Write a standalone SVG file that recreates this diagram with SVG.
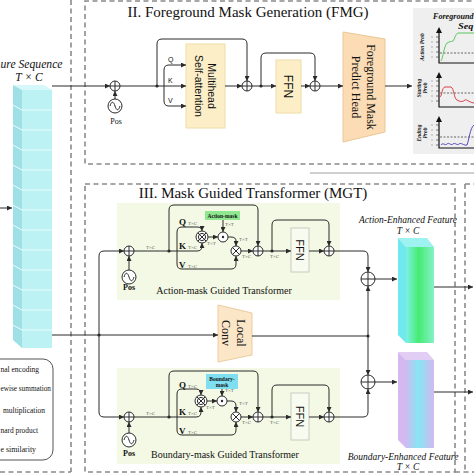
<svg xmlns="http://www.w3.org/2000/svg" width="474" height="474" viewBox="0 0 474 474">
<style>
.dash{fill:none;stroke:#8a8a8a;stroke-width:1.6;stroke-dasharray:5 3.5}
.ln{fill:none;stroke:#2a2a2a;stroke-width:1}
.arr{marker-end:url(#ah)}
.op{fill:#fff;stroke:#2a2a2a;stroke-width:1}
.ttl{font-family:"Liberation Serif",serif;font-size:15px;fill:#111}
.ser{font-family:"Liberation Serif",serif;fill:#111}
.sans{font-family:"Liberation Sans",Arial,sans-serif;fill:#111}
.tc{font-family:"Liberation Serif",serif;font-size:5px;fill:#666}
.qkv{font-family:"Liberation Serif",serif;font-size:9px;font-weight:bold;fill:#111}
.leg{font-family:"Liberation Serif",serif;font-size:8.5px;fill:#111}
.dot{fill:#2a2a2a}
.green{fill:#f3f9e4}
.ffn{fill:#f8fbef;stroke:#c8ccc0;stroke-width:1}
.ylab{font-family:"Liberation Serif",serif;font-size:5.5px;font-style:italic;font-weight:bold;fill:#222;text-anchor:middle}
</style>
<defs>
<marker id="ah" viewBox="0 0 6 6" refX="6" refY="3" markerWidth="5" markerHeight="5" markerUnits="userSpaceOnUse" orient="auto"><path d="M0,0 L6,3 L0,6 z" fill="#2a2a2a"/></marker>
<g id="plus"><circle r="5" class="op"/><path d="M-5,0H5M0,-5V5" class="ln"/></g>
<g id="bigplus"><circle r="7" class="op"/><path d="M-7,0H7M0,-7V7" class="ln"/></g>
<g id="mul"><circle r="5" class="op"/><path d="M-3.5,-3.5L3.5,3.5M-3.5,3.5L3.5,-3.5" class="ln"/></g>
<g id="cos"><circle r="6" class="op"/><circle r="3.6" class="op"/><path d="M-4.2,-4.2L4.2,4.2M-4.2,4.2L4.2,-4.2" class="ln"/></g>
<g id="had"><circle r="5" class="op"/><circle r="1.2" class="dot"/></g>
<g id="pos"><circle r="7" class="op"/><path d="M-5,0 C-3.5,-5 -1.5,-5 0,0 C1.5,5 3.5,5 5,0" class="ln"/></g>
<linearGradient id="gA" x1="0" y1="0" x2="1" y2="0"><stop offset="0" stop-color="#7ff0e4"/><stop offset="0.45" stop-color="#45ec72"/><stop offset="1" stop-color="#86f0c8"/></linearGradient>
<linearGradient id="gB" x1="0" y1="0" x2="1" y2="0"><stop offset="0" stop-color="#cdbcf2"/><stop offset="0.45" stop-color="#86e6f2"/><stop offset="1" stop-color="#d4b8f0"/></linearGradient>
</defs>

<!-- panels -->
<g id="panels">
<path class="dash" d="M71,0V472M0,472H71"/>
<path class="dash" d="M480,1H85V164H480"/>
<path d="M310,173H474" stroke="#a0a0a0" stroke-width="1" fill="none"/>
<path class="dash" d="M85,184H455V472H85Z"/>
<path class="dash" d="M465,184V472M465,184H480M455,472H480"/>
<text class="ttl" x="248" y="17" text-anchor="middle">II. Foreground Mask Generation (FMG)</text>
<text class="ttl" x="253" y="198" text-anchor="middle">III. Mask Guided Transformer (MGT)</text>
</g>

<!-- input feature sequence -->
<g id="input-seq">
<text class="ser" x="0.5" y="68" font-size="11.5" font-style="italic" textLength="62" lengthAdjust="spacingAndGlyphs">ure Sequence</text>
<text class="ser" x="29" y="81" font-size="11.5" font-style="italic" text-anchor="middle">T × C</text>
<polygon points="13,85 44,85 52,90 22,90" fill="#d6f8fa"/>
<polygon points="13,85 22,90 22,348 13,340" fill="#9fe0e6"/>
<rect x="22" y="90" width="30" height="258" fill="#bdf2f5"/>
<path d="M22,110H52M22,130H52M22,150H52M22,170H52M22,190H52M22,210H52M22,230H52M22,250H52M22,270H52M22,290H52M22,310H52M22,330H52" stroke="#e8fbfc" stroke-width="1"/>
<path d="M13,105L22,110M13,125L22,130M13,145L22,150M13,165L22,170M13,185L22,190M13,205L22,210M13,225L22,230M13,245L22,250M13,265L22,270M13,285L22,290M13,305L22,310M13,325L22,330" stroke="#e8fbfc" stroke-width="1"/>
</g>

<!-- legend -->
<g id="legend">
<rect x="-20" y="359" width="73" height="101" rx="10" fill="#fff" stroke="#555" stroke-width="1"/>
<text class="leg" x="0.5" y="372" textLength="38.5" lengthAdjust="spacingAndGlyphs">nal encoding</text>
<text class="leg" x="0.5" y="391" textLength="50.5" lengthAdjust="spacingAndGlyphs">ewise summation</text>
<text class="leg" x="3" y="413" textLength="42" lengthAdjust="spacingAndGlyphs">multiplication</text>
<text class="leg" x="0.5" y="433" textLength="37.5" lengthAdjust="spacingAndGlyphs">nard product</text>
<text class="leg" x="0.5" y="452" textLength="35.5" lengthAdjust="spacingAndGlyphs">e similarity</text>
</g>

<!-- FMG nodes -->
<g id="fmg-pos"><use href="#pos" x="115" y="106"/><text class="ser" x="116" y="124" font-size="8" text-anchor="middle">Pos</text></g>
<g id="fmg-plus0"><use href="#plus" x="115" y="86"/></g>
<g id="fmg-mhsa">
<rect x="186" y="44" width="39" height="84" fill="#fcefc8" stroke="#efdca6"/>
<g transform="translate(205.5,86) rotate(90)"><text class="sans" font-size="10.5" text-anchor="middle" y="-2.5">Multihead</text><text class="sans" font-size="10.5" text-anchor="middle" y="10.5">Self-attention</text></g>
<text class="sans" x="168" y="62" font-size="7">Q</text>
<text class="sans" x="168" y="83" font-size="7">K</text>
<text class="sans" x="168" y="103" font-size="7">V</text>
</g>
<g id="fmg-plus1"><use href="#plus" x="247" y="86"/></g>
<g id="fmg-ffn">
<rect x="276" y="60" width="25" height="53" fill="#fcefc8" stroke="#efdca6"/>
<text class="sans" font-size="12" text-anchor="middle" transform="translate(288.5,86.5) rotate(90)" y="4.5">FFN</text>
</g>
<g id="fmg-plus2"><use href="#plus" x="315" y="86"/></g>
<g id="fmg-head">
<polygon points="343,32 385,39 385,132 343,142" fill="#fbdcb4" stroke="#ebc796"/>
<g transform="translate(364,87) rotate(90)"><text class="ser" font-size="12" text-anchor="middle" y="-3">Foreground Mask</text><text class="ser" font-size="12" text-anchor="middle" y="12">Predict  Head</text></g>
</g>
<g id="fmg-chart">
<rect x="413" y="8" width="70" height="146" fill="#efefef"/>
<text class="ser" x="433" y="19" font-size="8.5" font-style="italic" font-weight="bold" textLength="40.5" lengthAdjust="spacingAndGlyphs">Foreground</text>
<text class="ser" x="458" y="29" font-size="8.5" font-style="italic" font-weight="bold" textLength="15.5" lengthAdjust="spacingAndGlyphs">Seq</text>
<path d="M439,30V63H474M439,75V107H474M439,119V148H474" stroke="#111" stroke-width="1.2" fill="none"/>
<path d="M436,33L439,27L442,33ZM436,78L439,72L442,78ZM436,122L439,116L442,122Z" fill="#111"/>
<path d="M436,37H439M436,42H439M436,47H439M436,52H439M436,57H439M436,81H439M436,86H439M436,91H439M436,96H439M436,101H439M436,125H439M436,130H439M436,135H439M436,140H439M436,145H439" stroke="#444" stroke-width="0.7"/>
<path d="M431,37H433M431,42H433M431,47H433M431,52H433M431,57H433M431,81H433M431,86H433M431,91H433M431,96H433M431,101H433M431,125H433M431,130H433M431,135H433M431,140H433M431,145H433" stroke="#999" stroke-width="0.7"/>
<path d="M440,53H474M440,93H474M440,137H474" stroke="#444" stroke-width="0.8" stroke-dasharray="2 1.5"/>
<path d="M441,61 C443,58 444,46 447,43 C450,41 451,42 453,41 C455,39 455,34 458,33 L474,33" stroke="#59c95e" stroke-width="1" fill="none"/>
<path d="M440,97 C442,96 442,87 445,87 L451,87 C454,88 454,99 457,100 C460,102 463,102 465,100 C467,99 468,102 474,103" stroke="#d9414b" stroke-width="1" fill="none"/>
<path d="M441,145 C443,142 445,146 447,144 C449,142 451,146 453,144 C455,142 457,146 459,144 C461,142 464,146 467,145 C469,140 470,128 474,125" stroke="#5547b8" stroke-width="1" fill="none"/>
<text class="ylab" transform="translate(424,47) rotate(-90)">Action Prob</text>
<text class="ylab" transform="translate(421,88) rotate(-90)">Starting</text>
<text class="ylab" transform="translate(427,88) rotate(-90)">Prob</text>
<text class="ylab" transform="translate(421,133) rotate(-90)">Ending</text>
<text class="ylab" transform="translate(427,133) rotate(-90)">Prob</text>
</g>

<!-- MGT green panels -->
<g id="amgt-panel"><rect class="green" x="117" y="203" width="223" height="97"/>
<text class="ser" x="224" y="294" font-size="10" text-anchor="middle">Action-mask Guided Transformer</text></g>
<g id="bmgt-panel"><rect class="green" x="117" y="368" width="223" height="96"/>
<text class="ser" x="225" y="458" font-size="10" text-anchor="middle">Boundary-mask Guided Transformer</text></g>

<!-- MGT action nodes -->
<g id="a-pos"><use href="#pos" x="129" y="277"/><text class="ser" x="129" y="290" font-size="8" text-anchor="middle" font-weight="bold">Pos</text></g>
<g id="a-plus0"><use href="#plus" x="129" y="251"/></g>
<g id="a-cos"><use href="#cos" x="202" y="237"/></g>
<g id="a-had"><use href="#had" x="223" y="237"/></g>
<g id="a-mask"><rect x="205" y="211" width="35" height="9" fill="#8fe88f"/><text class="ser" x="222.5" y="217.8" font-size="5.5" font-weight="bold" text-anchor="middle">Action-mask</text></g>
<g id="a-mul"><use href="#mul" x="236" y="251"/></g>
<g id="a-plus1"><use href="#plus" x="258" y="251"/></g>
<g id="a-ffn"><rect class="ffn" x="291" y="228" width="18" height="44"/><text class="sans" font-size="11" text-anchor="middle" transform="translate(300,250) rotate(90)" y="4">FFN</text></g>
<g id="a-plus2"><use href="#plus" x="329" y="251"/></g>
<g id="a-labels">
<text class="qkv" x="179" y="225">Q</text><text class="tc" x="188" y="225">T×C</text>
<text class="qkv" x="179" y="249">K</text><text class="tc" x="188" y="249">T×C</text>
<text class="qkv" x="179" y="268">V</text><text class="tc" x="188" y="268">T×C</text>
<text class="tc" x="146" y="249">T×C</text>
<text class="tc" x="207" y="245">T×T</text>
<text class="tc" x="225" y="226">T×T</text>
<text class="tc" x="239" y="241">T×T</text>
<text class="tc" x="242" y="258">T×C</text>
<text class="tc" x="270" y="258">T×C</text>
</g>

<!-- MGT boundary nodes -->
<g id="b-pos"><use href="#pos" x="129" y="440"/><text class="ser" x="129" y="456" font-size="8" text-anchor="middle" font-weight="bold">Pos</text></g>
<g id="b-plus0"><use href="#plus" x="129" y="417"/></g>
<g id="b-cos"><use href="#cos" x="201" y="401"/></g>
<g id="b-had"><use href="#had" x="222" y="401"/></g>
<g id="b-mask"><rect x="206" y="374" width="32" height="15" fill="#7fdff0"/><text class="ser" x="222" y="380.5" font-size="5.5" font-weight="bold" text-anchor="middle">Boundary-</text><text class="ser" x="222" y="387" font-size="5.5" font-weight="bold" text-anchor="middle">mask</text></g>
<g id="b-mul"><use href="#mul" x="236" y="417"/></g>
<g id="b-plus1"><use href="#plus" x="258" y="417"/></g>
<g id="b-ffn"><rect class="ffn" x="291" y="393" width="18" height="47"/><text class="sans" font-size="11" text-anchor="middle" transform="translate(300,416.5) rotate(90)" y="4">FFN</text></g>
<g id="b-plus2"><use href="#plus" x="329" y="417"/></g>
<g id="b-labels">
<text class="qkv" x="179" y="388">Q</text><text class="tc" x="188" y="388">T×C</text>
<text class="qkv" x="179" y="415">K</text><text class="tc" x="188" y="415">T×C</text>
<text class="qkv" x="179" y="434">V</text><text class="tc" x="188" y="434">T×C</text>
<text class="tc" x="146" y="415">T×C</text>
<text class="tc" x="206" y="409">T×T</text>
<text class="tc" x="225" y="392">T×T</text>
<text class="tc" x="239" y="405">T×T</text>
<text class="tc" x="242" y="424">T×C</text>
<text class="tc" x="270" y="424">T×C</text>
</g>

<!-- local conv -->
<g id="local-conv">
<polygon points="218,305 252,313 252,355 218,362" fill="#fce6c8" stroke="#ebcc9e"/>
<g transform="translate(235,333) rotate(90)"><text class="ser" font-size="12" text-anchor="middle" y="-2">Local</text><text class="ser" font-size="12" text-anchor="middle" y="13">Conv</text></g>
</g>

<!-- merges -->
<g id="merge-a"><use href="#bigplus" x="368" y="279"/></g>
<g id="merge-b"><use href="#bigplus" x="368" y="382"/></g>

<!-- enhanced features -->
<g id="action-feature">
<text class="ser" x="408" y="223" font-size="9.5" font-style="italic" text-anchor="middle">Action-Enhanced Feature</text>
<text class="ser" x="408" y="234" font-size="9.5" font-style="italic" text-anchor="middle">T × C</text>
<polygon points="398,238 427,238 434,247 406,247" fill="#9ef2f0"/>
<polygon points="398,238 406,247 406,343 398,335" fill="#6fe8ee"/>
<rect x="406" y="247" width="28" height="96" fill="url(#gA)"/>
</g>
<g id="boundary-feature">
<polygon points="398,352 427,352 434,360 406,360" fill="#e2cdf5"/>
<polygon points="398,352 406,360 406,448 398,440" fill="#d6b8f0"/>
<rect x="406" y="360" width="28" height="88" fill="url(#gB)"/>
<text class="ser" x="403" y="460" font-size="9.5" font-style="italic" text-anchor="middle">Boundary-Enhanced Feature</text>
<text class="ser" x="408" y="470" font-size="9.5" font-style="italic" text-anchor="middle">T × C</text>
</g>

<!-- connectors -->
<g id="connectors">
<path class="ln arr" d="M0,208H12"/>
<path class="ln arr" d="M52,86H110"/>
<path class="ln arr" d="M115,99V91"/>
<path class="ln arr" d="M120,86H186"/>
<path class="ln arr" d="M157,86V44Q157,39 162,39H242Q247,39 247,44V81"/>
<path class="ln arr" d="M164,86V70Q164,65 169,65H186"/>
<path class="ln arr" d="M164,86V101Q164,106 169,106H186"/>
<path class="ln arr" d="M225,86H242"/>
<path class="ln arr" d="M252,86H276"/>
<path class="ln arr" d="M261,86V58Q261,53 266,53H310Q315,53 315,58V81"/>
<path class="ln arr" d="M301,86H310"/>
<path class="ln arr" d="M320,86H343"/>
<path class="ln arr" d="M385,86H412"/>
<circle class="dot" cx="157" cy="86" r="1.6"/>
<circle class="dot" cx="261" cy="86" r="1.6"/>

<path class="ln arr" d="M52,335H218"/>
<circle class="dot" cx="99" cy="335" r="1.6"/>
<path class="ln arr" d="M99,335V256Q99,251 104,251H124"/>
<path class="ln arr" d="M99,335V412Q99,417 104,417H124"/>
<path class="ln arr" d="M129,270V256"/>
<path class="ln arr" d="M129,433V422"/>

<path class="ln arr" d="M134,251H197Q202,251 202,246V243"/>
<circle class="dot" cx="169" cy="251" r="1.6"/>
<path class="ln arr" d="M169,251V210Q169,205 174,205H253Q258,205 258,210V246"/>
<path class="ln arr" d="M177,251V232Q177,227 182,227H197Q202,227 202,231"/>
<path class="ln arr" d="M177,251V264Q177,269 182,269H231Q236,269 236,264V256"/>
<path class="ln arr" d="M208,237H218"/>
<path class="ln arr" d="M223,220V232"/>
<path class="ln arr" d="M228,237H231Q236,237 236,241V246"/>
<path class="ln arr" d="M241,251H253"/>
<path class="ln arr" d="M263,251H291"/>
<circle class="dot" cx="272" cy="251" r="1.6"/>
<path class="ln arr" d="M272,251V225Q272,220 277,220H324Q329,220 329,225V246"/>
<path class="ln arr" d="M309,251H324"/>
<path class="ln arr" d="M334,251H363Q368,251 368,256V272"/>

<path class="ln arr" d="M134,417H196Q201,417 201,412V407"/>
<circle class="dot" cx="169" cy="417" r="1.6"/>
<path class="ln arr" d="M169,417V376Q169,371 174,371H253Q258,371 258,376V412"/>
<path class="ln arr" d="M177,417V394Q177,389 182,389H196Q201,389 201,395"/>
<path class="ln arr" d="M177,417V430Q177,435 182,435H231Q236,435 236,430V422"/>
<path class="ln arr" d="M207,401H217"/>
<path class="ln arr" d="M222,389V396"/>
<path class="ln arr" d="M227,401H231Q236,401 236,406V412"/>
<path class="ln arr" d="M241,417H253"/>
<path class="ln arr" d="M263,417H291"/>
<circle class="dot" cx="272" cy="417" r="1.6"/>
<path class="ln arr" d="M272,417V390Q272,385 277,385H324Q329,385 329,390V412"/>
<path class="ln arr" d="M309,417H324"/>
<path class="ln arr" d="M334,417H363Q368,417 368,412V389"/>

<path class="ln" d="M252,336H368"/>
<circle class="dot" cx="368" cy="336" r="1.6"/>
<path class="ln arr" d="M368,336V286"/>
<path class="ln arr" d="M368,336V375"/>
<path class="ln arr" d="M375,279H397"/>
<path class="ln arr" d="M375,382H397"/>
<path class="ln arr" d="M434,287H473"/>
<path class="ln arr" d="M434,392H473"/>
</g>
</svg>
